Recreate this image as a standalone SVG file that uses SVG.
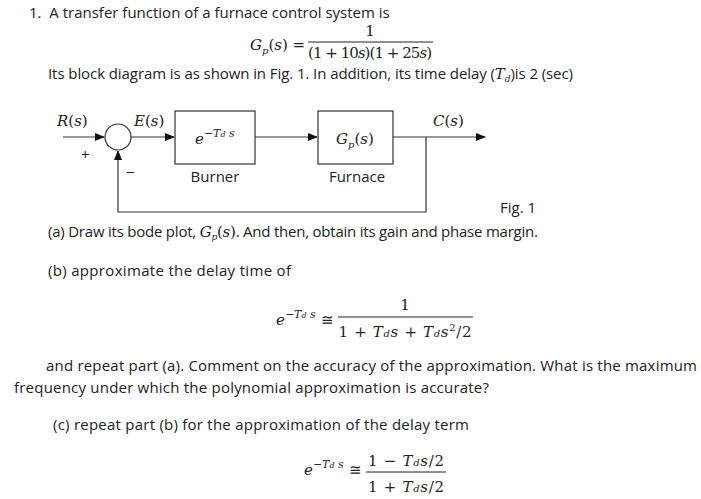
<svg xmlns="http://www.w3.org/2000/svg" width="701" height="499" viewBox="0 0 701 499">
<style>
.t{font-family:"Open Sans","Noto Sans",sans-serif;font-size:15px;fill:#222}
.m{font-family:"DejaVu Serif","Liberation Serif",serif;font-size:15px;fill:#222}
.i{font-style:italic}
.ln{stroke:#333;stroke-width:1.2;fill:none}
</style>
<defs><marker id="a" markerWidth="10" markerHeight="8" refX="9" refY="4" orient="auto" markerUnits="userSpaceOnUse"><path d="M0,0L10,4L0,8z" fill="#111"/></marker></defs>
<rect width="701" height="499" fill="#fff"/>
<text class="t" x="29" y="18">1.&#160;&#160;A transfer function of a furnace control system is</text>
<text class="m" x="250" y="50"><tspan class="i">G</tspan><tspan class="i" font-size="10" dy="4">p</tspan><tspan dy="-4">(</tspan><tspan class="i">s</tspan>) =</text>
<text class="m" x="370" y="36" text-anchor="middle">1</text>
<line x1="308" y1="42" x2="433" y2="42" stroke="#222" stroke-width="1"/>
<text class="m" x="370" y="58" text-anchor="middle" textLength="124">(1 + 10<tspan class="i">s</tspan>)(1 + 25<tspan class="i">s</tspan>)</text>
<text class="t" x="48" y="79" textLength="525">Its block diagram is as shown in Fig. 1. In addition, its time delay (<tspan class="i" font-family="DejaVu Serif">T</tspan><tspan class="i" font-family="DejaVu Serif" font-size="9" dy="3">d</tspan><tspan dy="-3">)is 2 (sec)</tspan></text>
<g id="connectors" class="ln">
<line x1="63" y1="137" x2="104" y2="137" marker-end="url(#a)"/>
<line x1="131" y1="137" x2="174" y2="137" marker-end="url(#a)"/>
<line x1="255" y1="137" x2="317" y2="137" marker-end="url(#a)"/>
<line x1="393" y1="137" x2="485" y2="137" marker-end="url(#a)"/>
<polyline points="426,137 426,212 118,212 118,151" marker-end="url(#a)"/>
</g>
<g id="sum"><circle cx="118" cy="137" r="13" class="ln"/>
<text class="t" x="81" y="160" font-size="14">+</text><text class="t" x="126" y="178" font-size="14">−</text></g>
<g id="burner"><rect x="175" y="111" width="80" height="53" class="ln"/>
<text class="m" x="195" y="144"><tspan class="i">e</tspan><tspan font-size="11" dy="-7">−<tspan class="i">T</tspan><tspan class="i" font-size="8">d</tspan><tspan class="i"> s</tspan></tspan></text>
<text class="t" x="215" y="182" text-anchor="middle">Burner</text></g>
<g id="furnace"><rect x="318" y="111" width="75" height="53" class="ln"/>
<text class="m" x="336" y="144"><tspan class="i">G</tspan><tspan class="i" font-size="10" dy="4">p</tspan><tspan dy="-4">(</tspan><tspan class="i">s</tspan>)</text>
<text class="t" x="357" y="182" text-anchor="middle">Furnace</text></g>
<text class="m" x="57" y="126"><tspan class="i">R</tspan>(<tspan class="i">s</tspan>)</text>
<text class="m" x="134" y="126"><tspan class="i">E</tspan>(<tspan class="i">s</tspan>)</text>
<text class="m" x="433" y="126"><tspan class="i">C</tspan>(<tspan class="i">s</tspan>)</text>
<text class="t" x="500" y="213" font-size="14">Fig. 1</text>
<text class="t" x="48" y="237" textLength="490">(a) Draw its bode plot, <tspan class="i" font-family="DejaVu Serif">G</tspan><tspan class="i" font-family="DejaVu Serif" font-size="9" dy="3">p</tspan><tspan dy="-3" font-family="DejaVu Serif">(<tspan class="i">s</tspan>)</tspan>. And then, obtain its gain and phase margin.</text>
<text class="t" x="48" y="276" textLength="243">(b) approximate the delay time of</text>
<text class="m" x="276" y="325"><tspan class="i">e</tspan><tspan font-size="11" dy="-7">−<tspan class="i">T</tspan><tspan class="i" font-size="8">d</tspan><tspan class="i"> s</tspan></tspan><tspan dy="7"> ≅</tspan></text>
<text class="m" x="405" y="310" text-anchor="middle">1</text>
<line x1="338" y1="317" x2="473" y2="317" stroke="#222" stroke-width="1"/>
<text class="m" x="405" y="337" text-anchor="middle" textLength="133">1 + <tspan class="i">T</tspan><tspan class="i" font-size="10">d</tspan><tspan class="i">s</tspan> + <tspan class="i">T</tspan><tspan class="i" font-size="10">d</tspan><tspan class="i">s</tspan><tspan font-size="10" dy="-6">2</tspan><tspan dy="6">/2</tspan></text>
<text class="t" x="46" y="371" textLength="651">and repeat part (a). Comment on the accuracy of the approximation. What is the maximum</text>
<text class="t" x="14" y="393" textLength="475">frequency under which the polynomial approximation is accurate?</text>
<text class="t" x="53" y="430" textLength="416">(c) repeat part (b) for the approximation of the delay term</text>
<text class="m" x="304" y="475"><tspan class="i">e</tspan><tspan font-size="11" dy="-7">−<tspan class="i">T</tspan><tspan class="i" font-size="8">d</tspan><tspan class="i"> s</tspan></tspan><tspan dy="7"> ≅</tspan></text>
<text class="m" x="406" y="466" text-anchor="middle" textLength="76">1 − <tspan class="i">T</tspan><tspan class="i" font-size="10">d</tspan><tspan class="i">s</tspan>/2</text>
<line x1="366" y1="472" x2="446" y2="472" stroke="#222" stroke-width="1"/>
<text class="m" x="406" y="492" text-anchor="middle" textLength="76">1 + <tspan class="i">T</tspan><tspan class="i" font-size="10">d</tspan><tspan class="i">s</tspan>/2</text>
</svg>
